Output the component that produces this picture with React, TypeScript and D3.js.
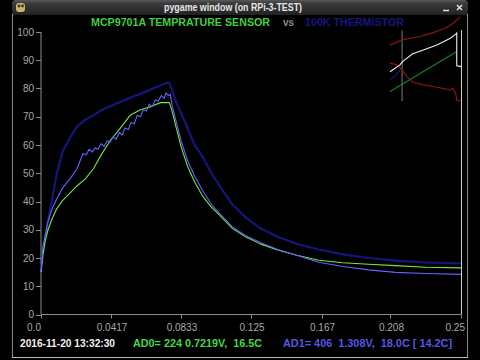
import React from 'react';
import * as d3 from 'd3';

const W = 480;
const H = 360;

// sample times (seconds since start) for the MCP9701A and raw thermistor traces
const sampleSeconds = [
  0, 4, 9, 15, 24, 34, 47, 62, 77, 95, 112, 129, 148, 170, 191, 213, 234, 256, 268, 275, 281, 290, 301, 314, 329,
  346, 365, 387, 410, 438, 470, 507, 548, 595, 647, 702, 760, 825, 900,
];
// MCP9701A sensor (green)
const mcpTemps = [
  15, 21, 26, 30, 34, 37.5, 40.5, 43, 45.5, 48, 51.5, 56.5, 61.5, 66, 70.5, 72.5, 73.5, 75, 75, 75, 72, 66, 59, 52.5,
  47, 42, 38, 34.5, 30.5, 27.5, 25, 22.8, 21, 19.2, 18.3, 17.8, 17.3, 16.7, 16.5,
];
// 100K thermistor raw (navy)
const thermistorTemps = [
  16, 21, 27, 33, 41, 50, 58, 62.5, 66.5, 69, 70.5, 72.3, 73.7, 75.2, 76.7, 78.1, 79.6, 81.1, 82, 82, 79.5, 75, 71, 66,
  60, 56, 50, 44.5, 39, 34.5, 30.5, 27.5, 25, 23, 21.3, 20, 19.1, 18.4, 18.1,
];
// thermistor corrected (blue) - noisy, so read denser on the rise
const correctedSeconds = [
  0, 4, 9, 15, 24, 34, 47, 62, 77, 90, 97, 103, 110, 116, 122, 129, 135, 142, 148, 155, 161, 168, 174, 180, 187, 193,
  200, 206, 213, 219, 226, 232, 238, 245, 251, 258, 264, 268, 273, 277, 281, 290, 301, 314, 329, 346, 365, 387, 410,
  438, 470, 507, 548, 595, 647, 702, 760, 825, 900,
];
const correctedTemps = [
  15, 24, 28, 33, 37.5, 41, 45, 48, 51.5, 57, 56.5, 58.5, 57.5, 59, 58.5, 60.5, 59.5, 61.5, 61, 63, 62, 64.5, 63.5,
  66, 65.5, 68, 67.5, 70.5, 70, 72.5, 72, 74.5, 73.5, 76, 75.5, 77.5, 76.5, 78.5, 77.5, 78, 74, 68, 61, 54.5, 49, 44,
  39, 35, 31, 28, 25.5, 23, 21, 18.5, 17, 15.8, 14.9, 14.5, 14.2,
];

const xTicks = [0, 0.0417, 0.0833, 0.125, 0.167, 0.208, 0.25];
const xTickLabels = ['0.0', '0.0417', '0.0833', '0.125', '0.167', '0.208', '0.25'];
const yTicks = [0, 10, 20, 30, 40, 50, 60, 70, 80, 90, 100];

// little inset plot top right (both axes 0-100, normalised)
const insetUpperRed: [number, number][] = [[0, 65], [18, 71], [42, 75], [66, 81], [85, 88], [99, 98]];
const insetWhite: [number, number][] = [
  [0, 34], [14, 42], [18, 46], [32, 55], [46, 59], [66, 65], [85, 73], [93, 78], [94, 79], [94, 41], [100, 40],
];
const insetGreen: [number, number][] = [[0, 11], [93, 57]];
const insetLowerRed: [number, number][] = [
  [0, 44], [10, 42], [17, 36], [24, 28], [32, 22], [46, 19], [66, 16], [85, 13], [89, 15], [93, 7], [94, 1], [100, 0],
];
const insetBlue: [number, number][] = [[0, 25], [8, 30], [14, 36]];
const insetMarker = 17;

const FONT = '"Liberation Sans", Arial, sans-serif';

export default function App() {
  const x = d3.scaleLinear().domain([0, 0.25]).range([41, 461]);
  const y = d3.scaleLinear().domain([0, 100]).range([314.5, 32]);

  const line = d3
    .line<[number, number]>()
    .x((d) => x(d[0] / 3600))
    .y((d) => y(d[1]));

  const mcpPath = line(sampleSeconds.map((s, i) => [s, mcpTemps[i]]));
  const thermPath = line(sampleSeconds.map((s, i) => [s, thermistorTemps[i]]));
  const corrPath = line(correctedSeconds.map((s, i) => [s, correctedTemps[i]]));

  // inset scales
  const ix = d3.scaleLinear().domain([0, 100]).range([390, 461]);
  const iy = d3.scaleLinear().domain([0, 100]).range([101, 15]);
  const insetLine = d3
    .line<[number, number]>()
    .x((d) => ix(d[0]))
    .y((d) => iy(d[1]));
  const insetCurve = d3
    .line<[number, number]>()
    .x((d) => ix(d[0]))
    .y((d) => iy(d[1]))
    .curve(d3.curveMonotoneX);

  return (
    <div style={{ position: 'fixed', left: 0, top: 0, width: W, height: H, background: '#000' }}>
      <svg width={W} height={H} style={{ display: 'block' }}>
        <defs>
          <linearGradient id="titlebar" x1="0" y1="0" x2="0" y2="1">
            <stop offset="0" stopColor="#5a5a5a" />
            <stop offset="0.2" stopColor="#3c3c3c" />
            <stop offset="1" stopColor="#222" />
          </linearGradient>
        </defs>
        <rect x={0} y={0} width={W} height={H} fill="#000" />

        {/* window frame */}
        <path d="M12,15 L12,4 Q12,0 16,0 L464,0 Q468,0 468,4 L468,15 Z" fill="url(#titlebar)" />
        <line x1={12.5} y1={14} x2={12.5} y2={357.5} stroke="#8a8a8a" />
        <line x1={467.5} y1={14} x2={467.5} y2={357.5} stroke="#8a8a8a" />
        <line x1={12} y1={357.5} x2={468} y2={357.5} stroke="#bdbdbd" />
        <rect x={16} y={3} width={9} height={9} rx={3} fill="#c9b46a" />
        <circle cx={19} cy={6} r={1.4} fill="#3a3220" />
        <circle cx={22.5} cy={6} r={1.4} fill="#3a3220" />
        <text x={233} y={10.5} textAnchor="middle" fontFamily={FONT} fontWeight="bold" fontSize={10} fill="#e6e6e6" textLength={138} lengthAdjust="spacingAndGlyphs">
          pygame window (on RPi-3-TEST)
        </text>
        <line x1={443} y1={10.5} x2={449} y2={10.5} stroke="#ddd" strokeWidth={1.5} />
        <path d="M457,5 L462,10 M462,5 L457,10" stroke="#ddd" strokeWidth={1.6} />

        {/* title */}
        <text y={25.5} fontFamily={FONT} fontWeight="bold" fontSize={11.5}>
          <tspan x={91} fill="#3fcf3f" textLength={179} lengthAdjust="spacingAndGlyphs">MCP9701A TEMPRATURE SENSOR</tspan>
        </text>
        <text x={283} y={25.5} fontFamily={FONT} fontWeight="bold" fontSize={10} fill="#888" textLength={11}>vs</text>
        <text x={305} y={25.5} fontFamily={FONT} fontWeight="bold" fontSize={11.5} fill="#16167e" textLength={99} lengthAdjust="spacingAndGlyphs">
          100K THERMISTOR
        </text>

        {/* axes */}
        <line x1={41} y1={y(100)} x2={41} y2={y(0)} stroke="#8c8c8c" />
        <line x1={41} y1={y(0)} x2={461} y2={y(0)} stroke="#8c8c8c" />
        <line x1={461.5} y1={30} x2={461.5} y2={y(0)} stroke="#d0d0d0" />
        {yTicks.map((v) => (
          <g key={v}>
            <line x1={36} y1={Math.round(y(v)) + 0.5} x2={41} y2={Math.round(y(v)) + 0.5} stroke="#8c8c8c" />
            <text x={34} y={y(v)} dy="0.36em" textAnchor="end" fontFamily={FONT} fontSize={10} fill="#a8a8a8">
              {v}
            </text>
          </g>
        ))}
        {xTicks.map((t, i) => {
          const last = i === xTicks.length - 1;
          const anchor = i === 0 || last ? 'end' : 'middle';
          const lx = i === 0 ? x(t) : last ? x(t) + 4 : x(t) + 1;
          return (
            <g key={t}>
              <line x1={Math.round(x(t)) + 0.5} y1={y(0)} x2={Math.round(x(t)) + 0.5} y2={y(0) + 4} stroke="#8c8c8c" />
              <text x={lx} y={331} textAnchor={anchor} fontFamily={FONT} fontSize={10} fill="#a8a8a8">
                {xTickLabels[i]}
              </text>
            </g>
          );
        })}

        {/* traces */}
        <path d={thermPath ?? ''} fill="none" stroke="#15157c" strokeWidth={2.2} strokeLinejoin="round" />
        <path d={mcpPath ?? ''} fill="none" stroke="#72e64a" strokeWidth={1.1} strokeLinejoin="round" />
        <path d={corrPath ?? ''} fill="none" stroke="#6262ff" strokeWidth={1.1} strokeLinejoin="round" />

        {/* inset */}
        <line x1={ix(insetMarker)} y1={iy(82)} x2={ix(insetMarker)} y2={iy(0)} stroke="#9a9a9a" strokeWidth={0.8} />
        <path d={insetCurve(insetUpperRed) ?? ''} fill="none" stroke="#8a1414" strokeWidth={1.2} />
        <path d={insetCurve(insetBlue) ?? ''} fill="none" stroke="#1a1a6a" strokeWidth={1.2} />
        <path d={insetLine(insetLowerRed) ?? ''} fill="none" stroke="#8a1414" strokeWidth={1.2} />
        <path d={insetLine(insetGreen) ?? ''} fill="none" stroke="#1f801f" strokeWidth={1.1} />
        <path d={insetLine(insetWhite) ?? ''} fill="none" stroke="#f0f0f0" strokeWidth={1.1} />

        {/* status line */}
        <text x={20} y={346.5} fontFamily={FONT} fontWeight="bold" fontSize={10.5} fill="#f2f2f2" textLength={95} lengthAdjust="spacingAndGlyphs">
          2016-11-20 13:32:30
        </text>
        <text x={133} y={346.5} fontFamily={FONT} fontWeight="bold" fontSize={10.5} fill="#44d844" textLength={129} lengthAdjust="spacingAndGlyphs" xmlSpace="preserve">
          AD0= 224 0.7219V,  16.5C
        </text>
        <text x={283} y={346.5} fontFamily={FONT} fontWeight="bold" fontSize={10.5} fill="#5656e0" textLength={169} lengthAdjust="spacingAndGlyphs" xmlSpace="preserve">
          AD1= 406  1.308V,  18.0C [ 14.2C]
        </text>
      </svg>
    </div>
  );
}
